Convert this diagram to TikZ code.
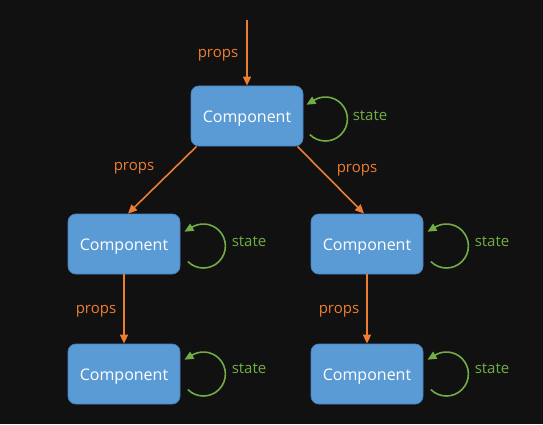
\documentclass[tikz,border=0pt]{standalone}
\usepackage{fontspec}
\setmainfont{Open Sans}
\usetikzlibrary{calc,arrows.meta}
\definecolor{bgdark}{RGB}{17,17,17}
\definecolor{compblue}{RGB}{91,155,213}
\definecolor{compedge}{RGB}{70,130,190}
\definecolor{propsorange}{RGB}{237,125,49}
\definecolor{stategreen}{RGB}{112,173,71}
\tikzset{
	comp/.style={draw=compedge, line width=0.8pt, fill=compblue, rounded corners=8pt,
		minimum width=112pt, minimum height=60pt, text height=12.5pt, text depth=0pt,
		text=white, font=\fontsize{16}{19}\selectfont},
	propsarrow/.style={draw=propsorange, line width=1.6pt, -{Triangle[length=9pt,width=8pt]}},
	propslabel/.style={text=propsorange, font=\fontsize{15}{18}\selectfont},
	statelabel/.style={text=stategreen, font=\fontsize{15}{18}\selectfont}
}
\def\statearc(#1){\draw[stategreen, line width=1.6pt, -{Triangle[length=9pt,width=8pt]}] ($(#1)+({22*cos(-135)},{22*sin(-135)})$) arc (-135:126:22) -- ++(-6,-3.5);}

\begin{document}
\begin{tikzpicture}[x=1pt, y=1pt]
		%%%%% START %%%%%
		
		\fill[bgdark] (0, 0) rectangle (543, 424);
		\useasboundingbox (0, 0) rectangle (543, 424);
		
		\node[comp] (top) at (247, 308) {Component};
		\node[comp] (midL) at (124, 180) {Component};
		\node[comp] (midR) at (367, 180) {Component};
		\node[comp] (botL) at (124, 50) {Component};
		\node[comp] (botR) at (367, 50) {Component};
		
		\coordinate (in) at (247, 404);
		\draw[propsarrow] (in) -- (top.north);
		\draw[propsarrow] ([xshift=6pt]top.south west) -- ([xshift=4pt]midL.north);
		\draw[propsarrow] ([xshift=-6pt]top.south east) -- ([xshift=-3pt]midR.north);
		\draw[propsarrow] (midL.south) -- (botL.north);
		\draw[propsarrow] (midR.south) -- (botR.north);
		
		\node[propslabel] (p0) at (218, 369) {props};
		\node[propslabel] (p1) at (134, 256) {props};
		\node[propslabel] (p2) at (357, 254) {props};
		\node[propslabel] (p3) at (96, 113) {props};
		\node[propslabel] (p4) at (339, 113) {props};
		
		\coordinate (c0) at ([shift={(22,-3)}]top.east);
		\coordinate (c1) at ([shift={(23,-2)}]midL.east);
		\coordinate (c2) at ([shift={(23,-2)}]midR.east);
		\coordinate (c3) at ([shift={(23,0)}]botL.east);
		\coordinate (c4) at ([shift={(23,0)}]botR.east);
		\statearc(c0)
		\statearc(c1)
		\statearc(c2)
		\statearc(c3)
		\statearc(c4)
		
		\node[statelabel] (s0) at (370, 308) {state};
		\node[statelabel] (s1) at (249, 182) {state};
		\node[statelabel] (s2) at (492, 182) {state};
		\node[statelabel] (s3) at (249, 55) {state};
		\node[statelabel] (s4) at (492, 55) {state};
		
		%%%%% END %%%%%
	\end{tikzpicture}
\end{document}
